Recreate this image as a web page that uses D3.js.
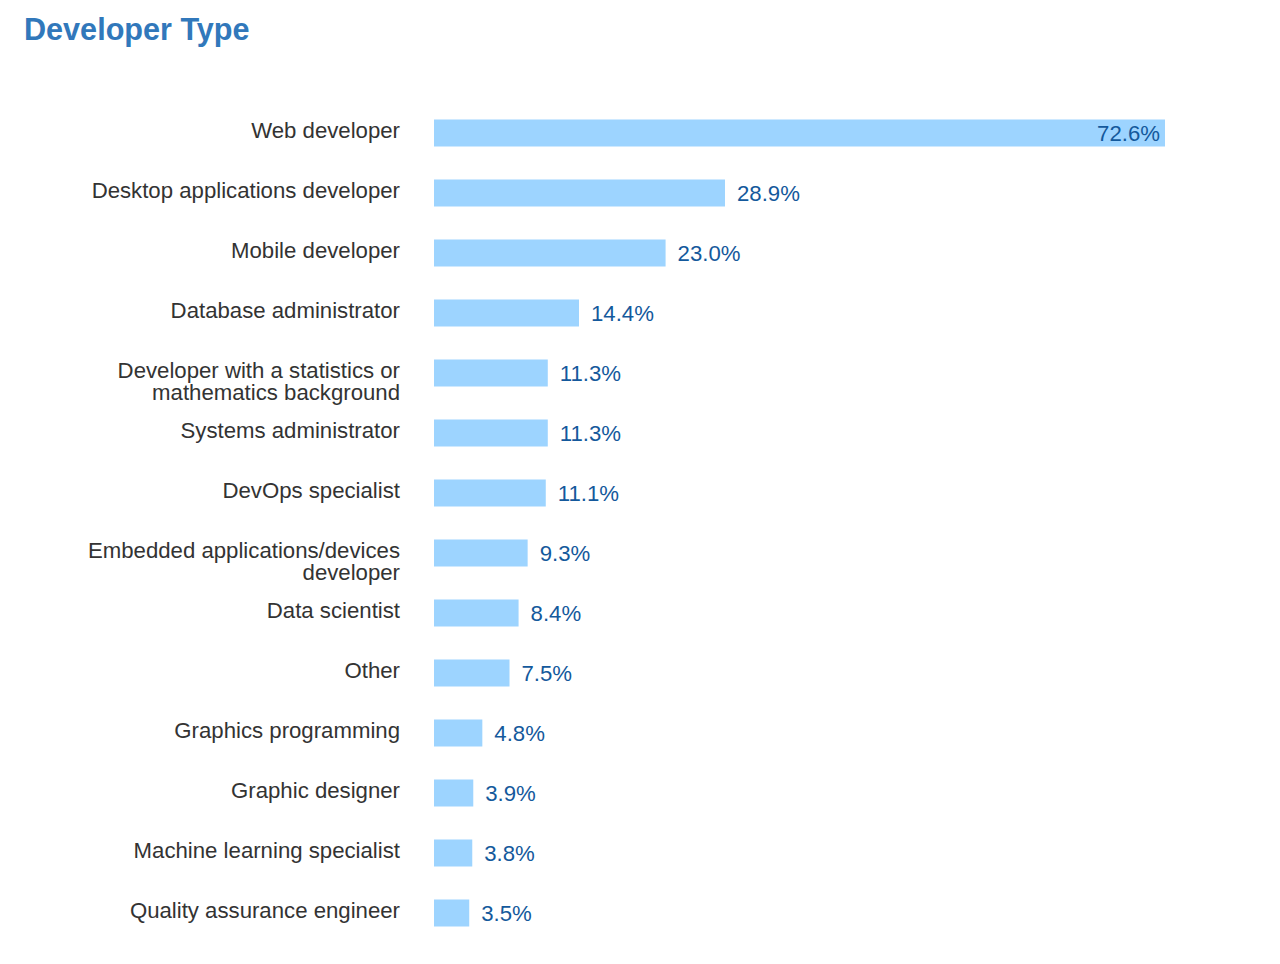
<!DOCTYPE html>
<html><head><meta charset="utf-8">
<script src="https://cdn.jsdelivr.net/npm/d3@7"></script>
<style>body{margin:0;background:#fff;} svg{display:block;font-family:"Liberation Sans",Arial,Helvetica,sans-serif;}</style>
</head><body>
<script>
const categories = [
  ["Web developer"],
  ["Desktop applications developer"],
  ["Mobile developer"],
  ["Database administrator"],
  ["Developer with a statistics or", "mathematics background"],
  ["Systems administrator"],
  ["DevOps specialist"],
  ["Embedded applications/devices", "developer"],
  ["Data scientist"],
  ["Other"],
  ["Graphics programming"],
  ["Graphic designer"],
  ["Machine learning specialist"],
  ["Quality assurance engineer"]
];
const values = [72.6, 28.9, 23.0, 14.4, 11.3, 11.3, 11.1, 9.3, 8.4, 7.5, 4.8, 3.9, 3.8, 3.5];
const title = "Developer Type";

const W = 1280, H = 964;
const svg = d3.select("body").append("svg").attr("width", W).attr("height", H);

svg.append("text").attr("x", 24).attr("y", 40)
  .attr("font-size", 30.6).attr("font-weight", "bold").attr("fill", "#3178bb")
  .text(title);

const keys = categories.map((c, i) => i);
const y = d3.scaleBand().domain(keys).range([103, 943]).paddingInner(0.55).paddingOuter(0.275);
const x = d3.scaleLinear().domain([0, 72.6]).range([434, 1165]);

const g = svg.append("g");
const rows = g.selectAll("g.row").data(keys).join("g").attr("class", "row");

rows.append("rect")
  .attr("x", x(0))
  .attr("y", i => y(i))
  .attr("width", i => x(values[i]) - x(0))
  .attr("height", y.bandwidth())
  .attr("fill", "#9dd4ff");

rows.each(function(i) {
  categories[i].forEach((line, k) => {
    d3.select(this).append("text")
      .attr("x", 400).attr("y", y(i) + y.bandwidth() / 2 + 5 + k * 22)
      .attr("text-anchor", "end").attr("font-size", 22.2).attr("fill", "#333333")
      .text(line);
  });
});

const maxV = d3.max(values);
rows.append("text")
  .attr("x", i => values[i] === maxV ? x(values[i]) - 5 : x(values[i]) + 12)
  .attr("y", i => y(i) + y.bandwidth() / 2 + 8)
  .attr("text-anchor", i => values[i] === maxV ? "end" : "start")
  .attr("font-size", 22.2).attr("fill", "#14599c")
  .text(i => values[i].toFixed(1) + "%");
</script>
</body></html>
